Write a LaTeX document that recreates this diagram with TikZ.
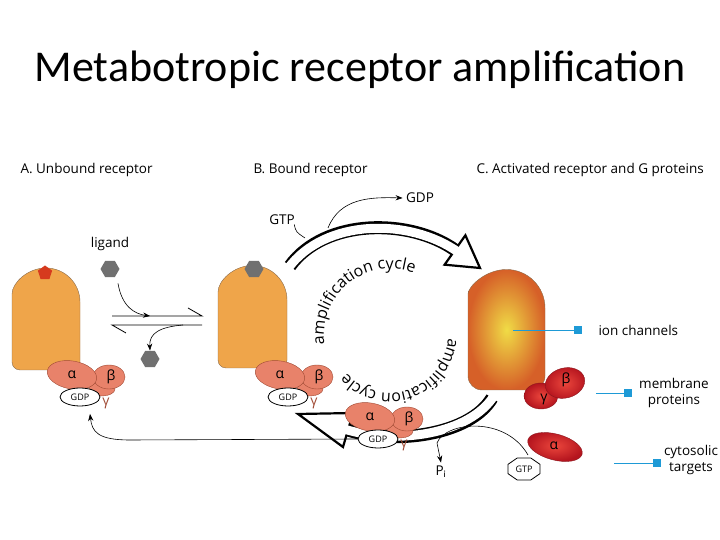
\documentclass[tikz,border=0pt]{standalone}
\usepackage{fontspec}
\setmainfont{Carlito}
\newfontfamily\lab{Open Sans}
\usetikzlibrary{shapes.geometric,decorations.text,arrows.meta}
\definecolor{rcpt}{HTML}{EFA54A}
\definecolor{rcptedge}{HTML}{8A6A4A}
\definecolor{gsalmon}{HTML}{E8826A}
\definecolor{gedge}{HTML}{A04A34}
\definecolor{gred}{HTML}{C8202A}
\definecolor{lnk}{HTML}{1E9AD6}
\definecolor{lig}{HTML}{707070}
\newcommand{\gprot}[2]{%
  \begin{scope}[shift={#1}]
  \draw[gedge,fill=gsalmon] (30,-14) ellipse (13 and 7);
  \draw[gedge,fill=gsalmon] (37,-2) ellipse (16 and 12);
  \draw[gedge,fill=gsalmon,rotate=-10] (0,0) ellipse (25 and 14);
  \node[font=\greek] (#2a) at (0,0) {α};
  \node[font=\greek] (#2b) at (39,-2) {β};
  \node[draw,thick,ellipse,fill=white,inner sep=1pt,minimum width=40,minimum height=18,font=\lab\fontsize{9}{10}\selectfont] (#2d) at (8,-22) {GDP};
  \node[font=\greek,text=gedge] (#2g) at (34,-28) {γ};
  \end{scope}}
\newcommand{\greek}{\lab\fontsize{14}{14}\selectfont}
\begin{document}
\begin{tikzpicture}[x=1pt,y=1pt,
  every node/.style={font=\lab\fontsize{13.5}{16}\selectfont},
  thin arr/.style={semithick,-{Stealth[length=7pt]}},
  band/.style={line width=13pt},
  hex/.style={regular polygon,regular polygon sides=6,fill=lig,inner sep=0pt,minimum size=19},
  redball/.style={inner color={rgb,255:red,235;green,70;blue,60},outer color={rgb,255:red,180;green,20;blue,30},draw=gred!70!black}]
\useasboundingbox (0,0) rectangle (720,540);
\node[font=\fontsize{44}{48}\selectfont] (title) at (360,470) {Metabotropic receptor amplification};
\node[anchor=west] (hA) at (17,370) {A. Unbound receptor};
\node[anchor=west] (hB) at (250,370) {B. Bound receptor};
\node[anchor=west] (hC) at (473,370) {C. Activated receptor and G proteins};
% receptors
\draw[rcptedge,fill=rcpt] (12,238) arc (180:0:34) [rounded corners=8] -- (80,170) -- (12,170) -- cycle;
\draw[rcptedge,fill=rcpt] (218,240) arc (180:0:34.5) [rounded corners=8] -- (287,172) -- (218,172) -- cycle;
\shade[inner color={rgb,255:red,240;green,220;blue,70},outer color={rgb,255:red,214;green,96;blue,40},draw=rcptedge]
  (468,232) arc (180:0:38.5) [rounded corners=14] -- (545,150) -- (468,150) -- cycle;
\node[regular polygon,regular polygon sides=5,fill={rgb,255:red,214;green,58;blue,30},inner sep=0pt,minimum size=15] (site) at (45,267) {};
\node[hex] (bound) at (254,271) {};
% ligand and equilibrium
\node (ligtxt) at (110,296) {ligand};
\node[hex] (ligin) at (110,271) {};
\node[hex] (ligout) at (150,181) {};
\draw[thick] (112,224) -- (202,224) -- (188,232);
\draw[thick] (202,215) -- (112,215) -- (126,207);
\coordinate (onA) at (150,224);
\coordinate (offB) at (183,215);
\draw[thin arr] (ligin.south) ++(8,-6) .. controls (122,233) and (135,226) .. (onA);
\draw[thin arr] (offB) .. controls (160,213) and (149,207) .. (ligout.north);
% amplification arrows
\draw[band] (290,274) .. controls (325,322) and (410,322) .. (455,290);
\draw[line width=2.2pt,fill=white,line join=miter] (465.4,304.7) -- (480,272) -- (444.6,275.3) -- cycle;
\draw[white,line width=9pt] (288,271.5) .. controls (325,322) and (410,322) .. (458,288);
\draw[band] (492,142) .. controls (470,105) and (395,95) .. (348,110);
\draw[line width=2.2pt,fill=white,line join=miter] (353,127) -- (298,126) -- (343,93) -- cycle;
\draw[white,line width=9pt] (494.5,145) .. controls (470,105) and (395,95) .. (344,111);
\path[decorate,decoration={text along path,text align=left,
  text={|\lab\fontsize{16}{16}\selectfont|amplification cycle}}] (390,205) ++(188:66) arc (188:30:66);
\path[decorate,decoration={text along path,text align=left,
  text={|\lab\fontsize{16}{16}\selectfont|amplification cycle}}] (390,205) ++(-3:58) arc (-3:-175:58);
% G proteins
\gprot{(72,165)}{ga}
\gprot{(280,165)}{gb}
\gprot{(370,123)}{gc}
% GTP / GDP
\node (gtp) at (282,320) {GTP};
\node (gdp) at (420,342) {GDP};
\draw[semithick] (gtp.south east) ++(-4,4) .. controls (296,308) .. (305,302);
\draw[thin arr] (328,312) .. controls (340,342) and (370,343) .. (gdp.west);
% activated G proteins in C
\shade[redball] (541,144) ellipse (17 and 13);
\shade[redball,rotate around={15:(565,157)}] (565,157) ellipse (20 and 15);
\node[font=\greek] (cb) at (566,160) {β};
\node[font=\greek] (cg) at (544,141) {γ};
\shade[redball,rotate around={-15:(555,93)}] (555,93) ellipse (28 and 13);
\node[font=\greek] (ca) at (554,94) {α};
\node[draw,thick,regular polygon,regular polygon sides=8,minimum size=24,inner sep=0pt,xscale=1.45] (cgtp) at (524,71) {};
\node[font=\lab\fontsize{9}{10}\selectfont] (cgtpt) at (524,71) {GTP};
% effectors
\coordinate (ion0) at (513,210);
\node[fill=lnk,minimum size=8,inner sep=0pt] (ionsq) at (578,210) {};
\draw[lnk,semithick] (ion0) -- (ionsq);
\node[anchor=west] (ion) at (595,210) {ion channels};
\node[fill=lnk,minimum size=8,inner sep=0pt] (memsq) at (628,147) {};
\draw[lnk,semithick] (596,147) -- (memsq);
\node[align=center] (mem) at (674,147) {membrane\\proteins};
\node[fill=lnk,minimum size=8,inner sep=0pt] (cytsq) at (657,77) {};
\draw[lnk,semithick] (614,77) -- (cytsq);
\node[align=center] (cyt) at (691,80) {cytosolic\\targets};
% hydrolysis and return
\node (pi) at (441,68) {P$_\mathrm{i}$};
\draw[thin arr] (528,85) .. controls (505,125) and (445,118) .. (437,97) -- (pi.north);
\draw[thin arr] (gcd.west) -- (130,100) .. controls (98,100) and (92,108) .. (90,126);
\end{tikzpicture}
\end{document}
